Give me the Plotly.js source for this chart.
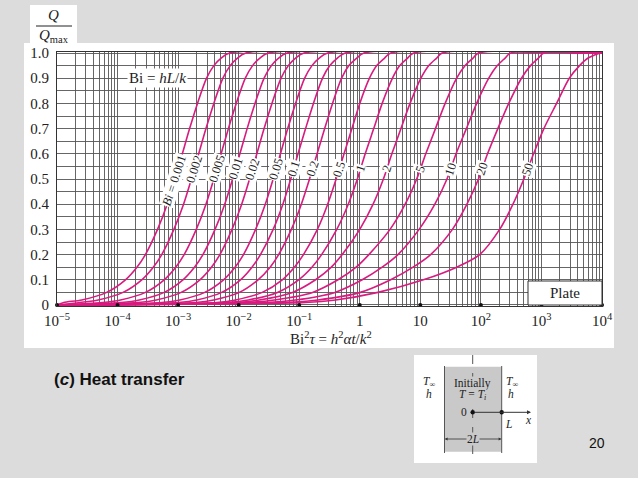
<!DOCTYPE html>
<html>
<head>
<meta charset="utf-8">
<script src="https://cdn.plot.ly/plotly-3.0.1.min.js"></script>
<style>
html,body{margin:0;padding:0;background:#dcdcdc;}
#chart{width:638px;height:478px;}
</style>
</head>
<body>
<div id="chart"></div>
<script>
// ---- data ----
// Q/Qmax levels at which the curves were read
const yLevels = [0.01, 0.02, 0.05, 0.1, 0.15, 0.2, 0.3, 0.4, 0.5, 0.6, 0.7, 0.8, 0.9, 0.95, 0.98, 1.0];
// log10(Bi^2 tau) at each level, one array per Biot number
const bi0001 = [-4.89, -4.59, -4.18, -3.87, -3.68, -3.54, -3.34, -3.18, -3.05, -2.93, -2.81, -2.68, -2.53, -2.41, -2.29, -2.15];
const bi0002 = [-4.62, -4.32, -3.91, -3.60, -3.41, -3.27, -3.07, -2.91, -2.78, -2.66, -2.54, -2.41, -2.26, -2.14, -2.02, -1.88];
const bi0005 = [-4.25, -3.95, -3.54, -3.23, -3.04, -2.90, -2.70, -2.54, -2.41, -2.29, -2.17, -2.04, -1.89, -1.77, -1.65, -1.51];
const bi001  = [-3.94, -3.64, -3.23, -2.92, -2.73, -2.59, -2.39, -2.23, -2.10, -1.98, -1.86, -1.73, -1.58, -1.46, -1.34, -1.20];
const bi002  = [-3.66, -3.36, -2.95, -2.64, -2.45, -2.31, -2.11, -1.95, -1.82, -1.70, -1.58, -1.45, -1.30, -1.18, -1.06, -0.92];
const bi005  = [-3.27, -2.97, -2.56, -2.25, -2.06, -1.92, -1.72, -1.56, -1.43, -1.31, -1.19, -1.06, -0.91, -0.79, -0.67, -0.53];
const bi01   = [-2.99, -2.69, -2.28, -1.97, -1.78, -1.64, -1.43, -1.27, -1.14, -1.02, -0.895, -0.765, -0.615, -0.495, -0.37, -0.24];
const bi02   = [-2.71, -2.41, -1.99, -1.68, -1.48, -1.34, -1.13, -0.965, -0.83, -0.705, -0.58, -0.45, -0.30, -0.18, -0.05, 0.07];
const bi05   = [-2.36, -2.05, -1.61, -1.28, -1.08, -0.93, -0.70, -0.53, -0.39, -0.26, -0.13, 0.0, 0.16, 0.28, 0.41, 0.51];
const bi1    = [-2.19, -1.84, -1.36, -1.01, -0.79, -0.63, -0.38, -0.19, -0.04, 0.09, 0.23, 0.37, 0.54, 0.66, 0.79, 0.89];
const bi2    = [-2.06, -1.66, -1.11, -0.73, -0.47, -0.29, 0.0, 0.22, 0.39, 0.53, 0.68, 0.83, 1.01, 1.14, 1.27, 1.36];
const bi5    = [-1.86, -1.41, -0.78, -0.36, -0.06, 0.15, 0.50, 0.75, 0.94, 1.09, 1.25, 1.41, 1.60, 1.74, 1.87, 1.96];
const bi10   = [-1.56, -1.06, -0.41, 0.04, 0.37, 0.63, 0.98, 1.24, 1.44, 1.59, 1.76, 1.93, 2.13, 2.27, 2.40, 2.49];
const bi20   = [-1.24, -0.69, 0.01, 0.51, 0.88, 1.17, 1.53, 1.77, 1.96, 2.11, 2.28, 2.46, 2.67, 2.82, 2.95, 3.04];
const bi50   = [-0.90, -0.40, 0.30, 1.05, 1.60, 1.98, 2.31, 2.53, 2.71, 2.87, 3.04, 3.25, 3.46, 3.63, 3.77, 3.97];
const curveLabels = ['<i>Bi</i> = 0.001', '0.002', '0.005', '0.01', '0.02', '0.05', '0.1', '0.2', '0.5', '1', '2', '5', '10', '20', '50'];
const decadeExps = [-5, -4, -3, -2, -1, 0, 1, 2, 3, 4];
const yTickVals = [0, 0.05, 0.1, 0.15, 0.2, 0.25, 0.3, 0.35, 0.4, 0.45, 0.5, 0.55, 0.6, 0.65, 0.7, 0.75, 0.8, 0.85, 0.9, 0.95, 1.0];
const yTickText = ['0', '', '0.1', '', '0.2', '', '0.3', '', '0.4', '', '0.5', '', '0.6', '', '0.7', '', '0.8', '', '0.9', '', '1.0'];

const curves = [bi0001, bi0002, bi0005, bi001, bi002, bi005, bi01, bi02, bi05, bi1, bi2, bi5, bi10, bi20, bi50];

// ---- layout helpers (pixel -> paper) ----
const ML = 57, MR = 36, MT = 52, MB = 172, W = 638, H = 478;
const PW = W - ML - MR, PH = H - MT - MB;
const px = v => (v - ML) / PW;
const py = v => (H - MB - v) / PH;

const pink = '#d81b7f';
const serif = 'Liberation Serif, Times New Roman, serif';
const sans = 'Liberation Sans, Arial, sans-serif';

const xMin = decadeExps[0], xMax = decadeExps[decadeExps.length - 1];

const traces = curves.map((c, i) => {
  const xs = [Math.pow(10, xMin)].concat(c.map(v => Math.pow(10, v)), [Math.pow(10, xMax)]);
  const ys = [0].concat(yLevels, [1.0]);
  return {
    x: xs, y: ys, type: 'scatter', mode: 'lines',
    line: {color: pink, width: 1.6, shape: 'spline', smoothing: 0.8},
    hoverinfo: 'skip', showlegend: false
  };
});

// decade dots on the x axis
traces.push({
  x: decadeExps.map(e => Math.pow(10, e)), y: decadeExps.map(() => 0),
  type: 'scatter', mode: 'markers', marker: {color: '#111', size: 4},
  cliponaxis: false, hoverinfo: 'skip', showlegend: false
});

// x grid/ticks: every 1..9 multiple, labels on decades
const xTickVals = [], xTickText = [];
decadeExps.forEach(e => {
  const ms = e === xMax ? [1] : [1, 2, 3, 4, 5, 6, 7, 8, 9];
  ms.forEach(m => {
    xTickVals.push(m * Math.pow(10, e));
    if (m === 1) {
      xTickText.push(e === 0 ? '1' : e === 1 ? '10' : '10<sup>' + (e < 0 ? '\u2212' + (-e) : e) + '</sup>');
    } else xTickText.push('');
  });
});

// interpolate log x on a curve at a given level
function logXAt(c, yq) {
  for (let k = 0; k < yLevels.length - 1; k++) {
    if (yq >= yLevels[k] && yq <= yLevels[k + 1]) {
      const t = (yq - yLevels[k]) / (yLevels[k + 1] - yLevels[k]);
      return c[k] + t * (c[k + 1] - c[k]);
    }
  }
  return c[c.length - 1];
}

const annotations = [];
curves.forEach((c, i) => {
  const yq = i === 0 ? 0.495 : 0.54;
  annotations.push({
    x: logXAt(c, yq), y: yq, xref: 'x', yref: 'y', text: curveLabels[i], showarrow: false,
    textangle: -72, bgcolor: '#ffffff', borderpad: 0,
    font: {family: serif, size: 12.5, color: '#222'}
  });
});

annotations.push({x: -3.34, y: 0.9, xref: 'x', yref: 'y', showarrow: false, bgcolor: '#ffffff', borderpad: 1,
  text: 'Bi = <i>hL</i>/<i>k</i>', font: {family: serif, size: 15, color: '#222'}});

function pa(x, y, text, opts) {
  return Object.assign({x: px(x), y: py(y), xref: 'paper', yref: 'paper', text: text, showarrow: false,
    xanchor: 'center', yanchor: 'middle', font: {family: serif, size: 14, color: '#222'}}, opts || {});
}

annotations.push(pa(565, 293, 'Plate', {font: {family: serif, size: 15, color: '#222'}}));
annotations.push(pa(331, 338, 'Bi<sup>2</sup><i>\u03c4</i> = <i>h</i><sup>2</sup><i>\u03b1t</i>/<i>k</i><sup>2</sup>', {font: {family: serif, size: 15, color: '#222'}}));
annotations.push(pa(53, 15, '<i>Q</i>', {font: {family: serif, size: 15, color: '#222'}}));
annotations.push(pa(54, 36, '<i>Q</i><sub>max</sub>', {font: {family: serif, size: 15, color: '#222'}}));
annotations.push(pa(52, 379, '<b>(<i>c</i>) Heat transfer</b>', {xanchor: 'left', font: {family: sans, size: 17, color: '#111'}}));
annotations.push(pa(597, 443, '20', {font: {family: sans, size: 14, color: '#111'}}));

// inset text
const fi = {family: serif, size: 11.5, color: '#222'};
annotations.push(pa(428.5, 382, '<i>T</i><sub>\u221e</sub>', {font: fi}));
annotations.push(pa(428.5, 394, '<i>h</i>', {font: fi}));
annotations.push(pa(512, 382, '<i>T</i><sub>\u221e</sub>', {font: fi}));
annotations.push(pa(510.5, 394, '<i>h</i>', {font: fi}));
annotations.push(pa(472.7, 383, 'Initially', {font: fi, bgcolor: '#c9c9c9', borderpad: 0}));
annotations.push(pa(472.7, 394.5, '<i>T</i> = <i>T<sub>i</sub></i>', {font: fi, bgcolor: '#c9c9c9', borderpad: 0}));
annotations.push(pa(463.5, 412, '0', {font: fi}));
annotations.push(pa(528.5, 420, '<i>x</i>', {font: fi}));
annotations.push(pa(508.5, 424, '<i>L</i>', {font: fi}));
// arrows
annotations.push({x: px(531), y: py(412.3), xref: 'paper', yref: 'paper', ax: -58, ay: 0, axref: 'pixel', ayref: 'pixel',
  text: '', showarrow: true, arrowhead: 2, arrowsize: 0.8, arrowwidth: 1, arrowcolor: '#333'});
annotations.push({x: px(444.8), y: py(439), xref: 'paper', yref: 'paper', ax: 28, ay: 0,
  text: '', showarrow: true, arrowhead: 2, arrowsize: 0.7, arrowwidth: 0.8, arrowcolor: '#333'});
annotations.push({x: px(501.4), y: py(439), xref: 'paper', yref: 'paper', ax: -28, ay: 0,
  text: '', showarrow: true, arrowhead: 2, arrowsize: 0.7, arrowwidth: 0.8, arrowcolor: '#333'});
annotations.push(pa(472.7, 439, '2<i>L</i>', {font: fi, bgcolor: '#c9c9c9', borderpad: 0}));

function prect(x0, y0, x1, y1, fill, line, layer) {
  return {type: 'rect', xref: 'paper', yref: 'paper', x0: px(x0), x1: px(x1), y0: py(y0), y1: py(y1),
    fillcolor: fill, line: line || {width: 0}, layer: layer || 'below'};
}
function pline(x0, y0, x1, y1, line) {
  return {type: 'line', xref: 'paper', yref: 'paper', x0: px(x0), x1: px(x1), y0: py(y0), y1: py(y1), line: line, layer: 'above'};
}
function pdot(x, y, r) {
  return {type: 'circle', xref: 'paper', yref: 'paper', x0: px(x - r), x1: px(x + r), y0: py(y + r), y1: py(y - r),
    fillcolor: '#111', line: {width: 0}, layer: 'above'};
}

const shapes = [
  prect(24, 43, 614, 348, '#ffffff'),
  prect(30, 5, 77, 43, '#ffffff'),
  pline(36, 26, 72, 26, {color: '#222', width: 1}),
  prect(528, 281, 602, 305, '#ffffff', {color: '#333', width: 1}, 'above'),
  prect(414, 355, 537, 463, '#ffffff'),
  prect(444.5, 366.7, 501.7, 451.7, '#c9c9c9', null, 'above'),
  pline(444.5, 366, 444.5, 453, {color: '#555', width: 1}),
  pline(501.7, 366, 501.7, 453, {color: '#555', width: 1}),
  pline(472.7, 355, 472.7, 463, {color: '#555', width: 1, dash: 'dash'}),
  pdot(472.7, 412.3, 2.2),
  pdot(501.7, 412.3, 2.2)
];

const layout = {
  width: W, height: H,
  margin: {l: ML, r: MR, t: MT, b: MB, pad: 0},
  paper_bgcolor: '#dcdcdc', plot_bgcolor: 'rgba(0,0,0,0)',
  showlegend: false,
  xaxis: {
    type: 'log', range: [xMin, xMax], tickmode: 'array', tickvals: xTickVals, ticktext: xTickText,
    tickangle: 0, automargin: false,
    showgrid: true, gridcolor: '#555', gridwidth: 0.9, zeroline: false,
    showline: true, mirror: true, linecolor: '#333', linewidth: 1, ticks: '',
    tickfont: {family: serif, size: 15, color: '#222'}, ticklabelstandoff: 1
  },
  yaxis: {
    range: [-0.004, 1.004], tickmode: 'array', tickvals: yTickVals, ticktext: yTickText,
    automargin: false,
    showgrid: true, gridcolor: '#555', gridwidth: 0.9, zeroline: false,
    showline: true, mirror: true, linecolor: '#333', linewidth: 1, ticks: '',
    tickfont: {family: serif, size: 15, color: '#222'}, ticklabelstandoff: 4
  },
  shapes: shapes,
  annotations: annotations
};

Plotly.newPlot('chart', traces, layout, {displayModeBar: false, staticPlot: true});
</script>
</body>
</html>
